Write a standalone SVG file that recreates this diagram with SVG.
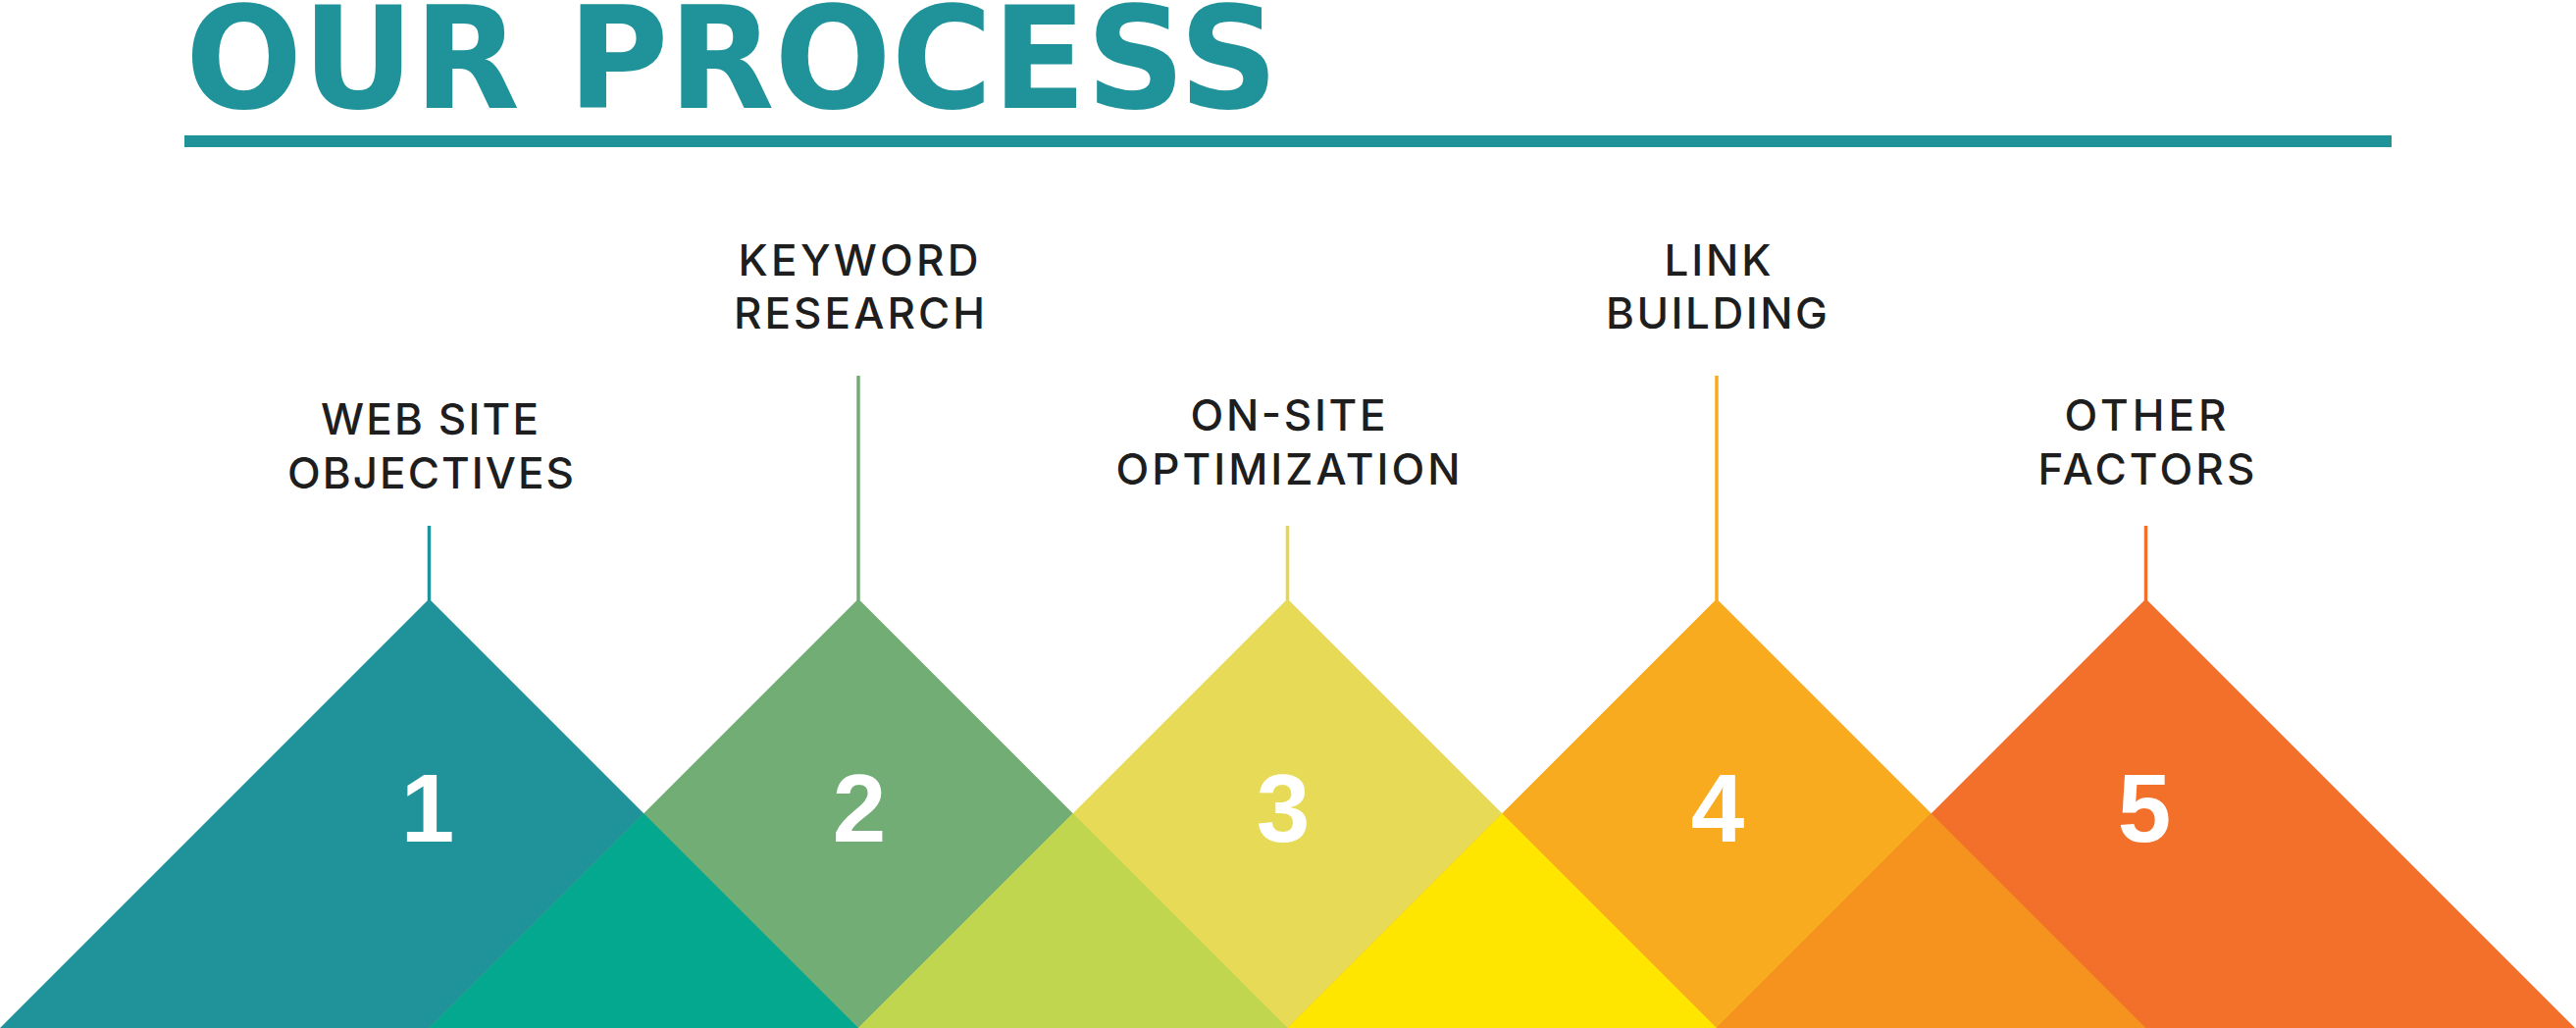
<svg xmlns="http://www.w3.org/2000/svg" width="2626" height="1048" viewBox="0 0 2626 1048">
  <style>
    .title { font-family: "DejaVu Sans", "Liberation Sans", sans-serif; font-weight: bold; font-size: 144px; fill: #1F9399; }
    .label { font-family: "Inter", "Liberation Sans", sans-serif; font-weight: 500; font-size: 44px; fill: #1E1E1E; }
    .num { font-family: "Liberation Sans", "DejaVu Sans", sans-serif; font-weight: bold; font-size: 98px; fill: #FFFFFF; text-anchor: middle; }
    .stem { stroke-width: 3.5; fill: none; }
  </style>
  <rect width="2626" height="1048" fill="#FFFFFF"/>

  <g id="title">
    <text class="title" x="189" y="110" textLength="1114" lengthAdjust="spacingAndGlyphs">OUR PROCESS</text>
    <rect x="188" y="138" width="2250" height="12" fill="#1F9399"/>
  </g>

  <g id="connectors">
    <line class="stem" x1="437.5" y1="536" x2="437.5" y2="612" stroke="#20939A"/>
    <line class="stem" x1="875" y1="383" x2="875" y2="612" stroke="#71AD74"/>
    <line class="stem" x1="1312.5" y1="536" x2="1312.5" y2="612" stroke="#E5D74E"/>
    <line class="stem" x1="1750" y1="383" x2="1750" y2="612" stroke="#F9AB20"/>
    <line class="stem" x1="2187.5" y1="536" x2="2187.5" y2="612" stroke="#F27029"/>
  </g>

  <g id="node-1">
    <polygon points="437.5,610.5 875,1048 0,1048" fill="#20939A"/>
  </g>
  <g id="node-2">
    <polygon points="875,610.5 1312.5,1048 437.5,1048" fill="#71AD74"/>
  </g>
  <g id="node-3">
    <polygon points="1312.5,610.5 1750,1048 875,1048" fill="#E6DA57"/>
  </g>
  <g id="node-4">
    <polygon points="1750,610.5 2187.5,1048 1312.5,1048" fill="#F9AB20"/>
  </g>
  <g id="node-5">
    <polygon points="2187.5,610.5 2625,1048 1750,1048" fill="#F27029"/>
  </g>

  <g id="overlaps">
    <polygon points="656.25,829.25 875,1048 437.5,1048" fill="#03A88F"/>
    <polygon points="1093.75,829.25 1312.5,1048 875,1048" fill="#C0D64E"/>
    <polygon points="1531.25,829.25 1750,1048 1312.5,1048" fill="#FFE600"/>
    <polygon points="1968.75,829.25 2187.5,1048 1750,1048" fill="#F6921E"/>
  </g>

  <g id="node-1-text">
    <text class="num" x="436" y="858">1</text>
    <text class="label" x="438" y="443" text-anchor="middle" textLength="222" lengthAdjust="spacing">WEB SITE</text>
    <text class="label" x="439" y="498" text-anchor="middle" textLength="292" lengthAdjust="spacing">OBJECTIVES</text>
  </g>
  <g id="node-2-text">
    <text class="num" x="876" y="858">2</text>
    <text class="label" x="875" y="281" text-anchor="middle" textLength="245" lengthAdjust="spacing">KEYWORD</text>
    <text class="label" x="876" y="335" text-anchor="middle" textLength="256" lengthAdjust="spacing">RESEARCH</text>
  </g>
  <g id="node-3-text">
    <text class="num" x="1308" y="858">3</text>
    <text class="label" x="1313" y="439" text-anchor="middle" textLength="199" lengthAdjust="spacing">ON-SITE</text>
    <text class="label" x="1313" y="494" text-anchor="middle" textLength="351" lengthAdjust="spacing">OPTIMIZATION</text>
  </g>
  <g id="node-4-text">
    <text class="num" x="1751" y="858">4</text>
    <text class="label" x="1751" y="281" text-anchor="middle" textLength="109" lengthAdjust="spacing">LINK</text>
    <text class="label" x="1750" y="335" text-anchor="middle" textLength="226" lengthAdjust="spacing">BUILDING</text>
  </g>
  <g id="node-5-text">
    <text class="num" x="2186" y="858">5</text>
    <text class="label" x="2187" y="439" text-anchor="middle" textLength="165" lengthAdjust="spacing">OTHER</text>
    <text class="label" x="2188" y="494" text-anchor="middle" textLength="221" lengthAdjust="spacing">FACTORS</text>
  </g>
</svg>
